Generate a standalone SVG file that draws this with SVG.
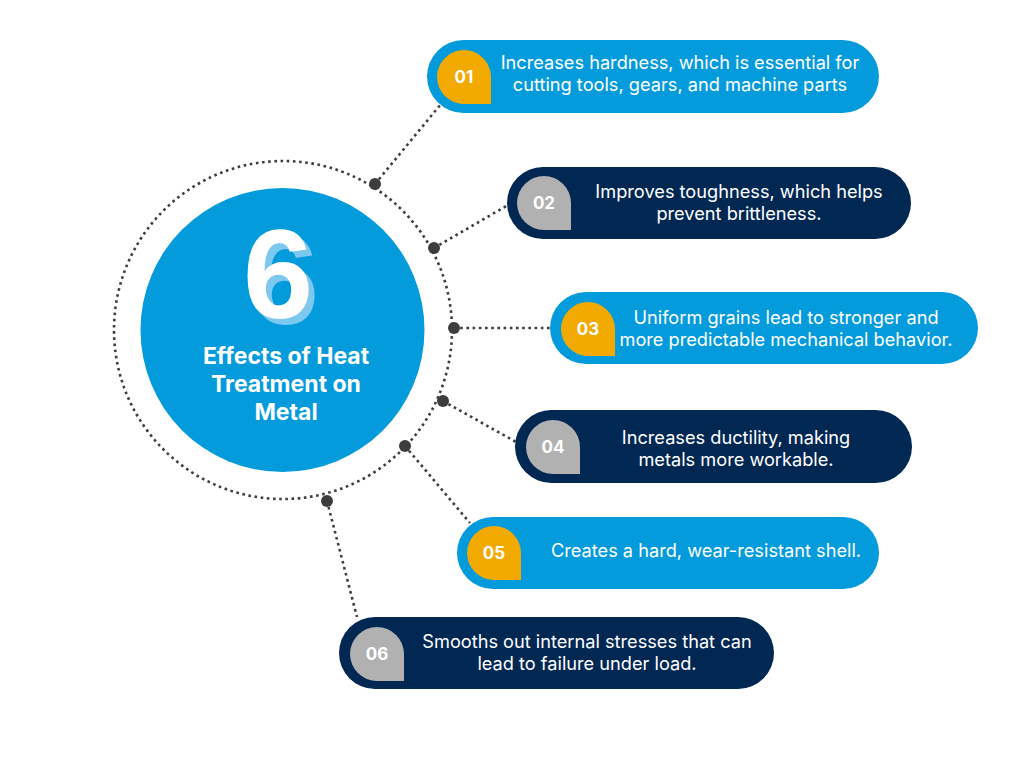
<svg xmlns="http://www.w3.org/2000/svg" width="1024" height="768" viewBox="0 0 1024 768">
<style>
.pill-blue{fill:#039bdc}
.pill-navy{fill:#012753}
.bdg-orange{fill:#f2a900}
.bdg-gray{fill:#b1b1b1}
.num{font-family:Inter,"Liberation Sans",sans-serif;font-weight:700;font-size:17px;fill:#fff;text-anchor:middle}
.txt{font-family:Inter,"Liberation Sans",sans-serif;font-size:18.2px;fill:#fff;text-anchor:middle}
.title{font-family:Inter,"Liberation Sans",sans-serif;font-weight:700;font-size:23px;fill:#fff;text-anchor:middle}
.conn{stroke:#3d3d3d;stroke-width:2.6;stroke-dasharray:2.6 3.6;fill:none}
.dot{fill:#3d3d3d}
</style>
<defs>
<path id="badge" d="M0,27 A27,27 0 0 1 27,0 A27,27 0 0 1 54,27 V54 H27 A27,27 0 0 1 0,27 Z"/>
<filter id="shadow6" x="-20%" y="-20%" width="150%" height="150%">
<feFlood flood-color="#7cc8ee" result="c"/>
<feComposite in="c" in2="SourceAlpha" operator="in" result="s"/>
<feOffset in="s" dx="6" dy="6" result="o"/>
<feMerge><feMergeNode in="o"/><feMergeNode in="SourceGraphic"/></feMerge>
</filter>
</defs>
<rect width="1024" height="768" fill="#fff"/>

<g id="center">
<circle cx="283" cy="330" r="169" class="conn"/>
<circle cx="282.5" cy="330" r="142" fill="#039bdc"/>
<text x="278" y="318" font-family="Liberation Sans,sans-serif" font-weight="700" font-size="126" fill="#fff" text-anchor="middle" filter="url(#shadow6)">6</text>
<text class="title" x="286" y="364">Effects of Heat</text>
<text class="title" x="286" y="392">Treatment on</text>
<text class="title" x="286" y="420">Metal</text>
</g>

<g id="connectors">
<line class="conn" x1="375" y1="184" x2="441" y2="104"/>
<line class="conn" x1="434" y1="248" x2="508" y2="205"/>
<line class="conn" x1="454" y1="328" x2="551" y2="328"/>
<line class="conn" x1="443" y1="401" x2="516" y2="442"/>
<line class="conn" x1="405" y1="446" x2="470" y2="523"/>
<line class="conn" x1="327" y1="501" x2="357" y2="617"/>
<circle class="dot" cx="375" cy="184" r="6"/>
<circle class="dot" cx="434" cy="248" r="6"/>
<circle class="dot" cx="454" cy="328" r="6"/>
<circle class="dot" cx="443" cy="401" r="6"/>
<circle class="dot" cx="405" cy="446" r="6"/>
<circle class="dot" cx="327" cy="501" r="6"/>
</g>

<g id="item01">
<rect class="pill-blue" x="427" y="40" width="452" height="73" rx="36.5"/>
<use href="#badge" x="437" y="50" class="bdg-orange"/>
<text class="num" x="464" y="83">01</text>
<text class="txt" x="680" y="69">Increases hardness, which is essential for</text>
<text class="txt" x="680" y="91">cutting tools, gears, and machine parts</text>
</g>

<g id="item02">
<rect class="pill-navy" x="507" y="167" width="404" height="72" rx="36"/>
<use href="#badge" x="517" y="176" class="bdg-gray"/>
<text class="num" x="544" y="209">02</text>
<text class="txt" x="739" y="198">Improves toughness, which helps</text>
<text class="txt" x="739" y="220">prevent brittleness.</text>
</g>

<g id="item03">
<rect class="pill-blue" x="550" y="292" width="428" height="72" rx="36"/>
<use href="#badge" x="561" y="302" class="bdg-orange"/>
<text class="num" x="588" y="335">03</text>
<text class="txt" x="786" y="324">Uniform grains lead to stronger and</text>
<text class="txt" x="786" y="346">more predictable mechanical behavior.</text>
</g>

<g id="item04">
<rect class="pill-navy" x="515" y="410" width="397" height="73" rx="36.5"/>
<use href="#badge" x="526" y="420" class="bdg-gray"/>
<text class="num" x="553" y="453">04</text>
<text class="txt" x="736" y="444">Increases ductility, making</text>
<text class="txt" x="736" y="466">metals more workable.</text>
</g>

<g id="item05">
<rect class="pill-blue" x="457" y="517" width="422" height="72" rx="36"/>
<use href="#badge" x="467" y="526" class="bdg-orange"/>
<text class="num" x="494" y="559">05</text>
<text class="txt" x="706" y="557">Creates a hard, wear-resistant shell.</text>
</g>

<g id="item06">
<rect class="pill-navy" x="339" y="617" width="435" height="72" rx="36"/>
<use href="#badge" x="350" y="627" class="bdg-gray"/>
<text class="num" x="377" y="660">06</text>
<text class="txt" x="587" y="648">Smooths out internal stresses that can</text>
<text class="txt" x="587" y="670">lead to failure under load.</text>
</g>
</svg>
